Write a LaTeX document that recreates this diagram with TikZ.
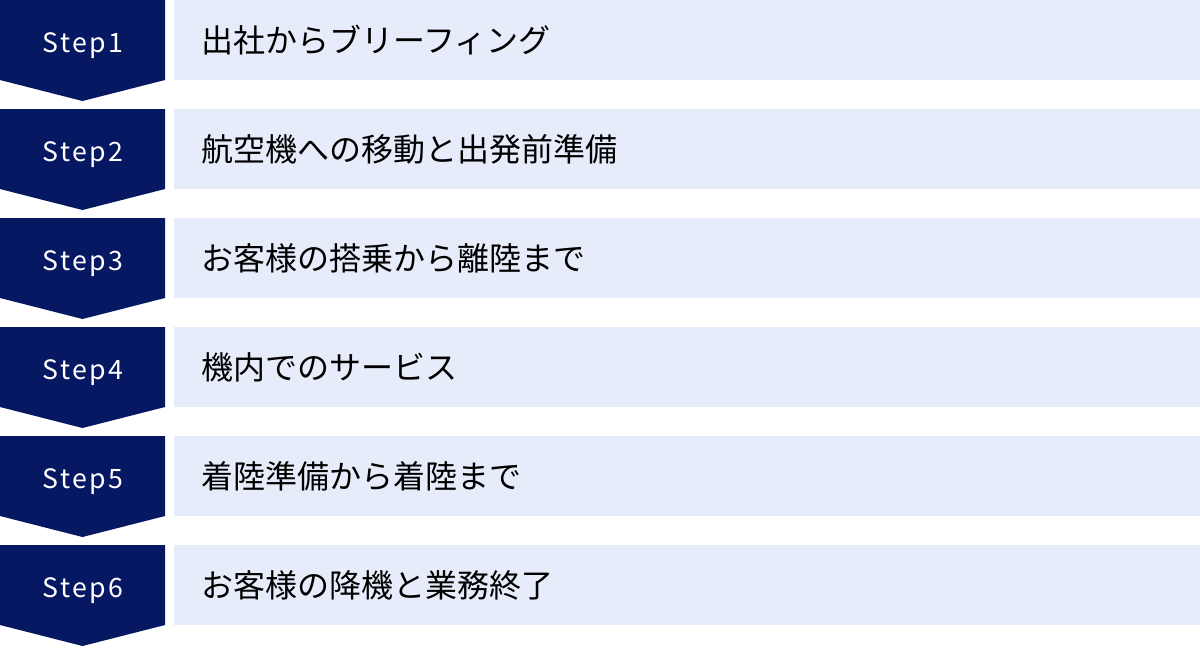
\documentclass[tikz,border=0pt]{standalone}
\usepackage{fontspec}
\setmainfont{Noto Sans CJK JP}
\newfontfamily\stepfont[LetterSpace=9]{Noto Sans CJK JP}
\usepackage{tikz}
\usetikzlibrary{positioning}
\definecolor{navy}{HTML}{061862}
\definecolor{paleblue}{HTML}{E6ECF9}

\begin{document}
\begin{tikzpicture}[x=0.75pt,y=-0.75pt,
  steptag/.style={fill=navy},
  steplabel/.style={text=white,font=\stepfont\fontsize{20}{24}\selectfont,anchor=base,inner sep=0pt},
  taskbox/.style={fill=paleblue,draw=none,minimum width=769.5pt,minimum height=60pt,
    inner sep=0pt,anchor=north west},
  tasktext/.style={text=black,font=\fontsize{24}{28}\selectfont,anchor=west,inner sep=0pt}]

  \useasboundingbox (0,0) rectangle (1200,647);

  % Steps
  \foreach \n/\task in {1/出社からブリーフィング,
                        2/航空機への移動と出発前準備,
                        3/お客様の搭乗から離陸まで,
                        4/機内でのサービス,
                        5/着陸準備から着陸まで,
                        6/お客様の降機と業務終了}{
    \pgfmathsetmacro{\top}{(\n-1)*109}
    \fill[steptag] (0,\top) -- (165,\top) -- (165,\top+80) -- (82.5,\top+101)
      -- (0,\top+80) -- cycle;
    \node[steplabel] (s\n) at (83,\top+52) {Step\n};
    \node[taskbox] (b\n) at (174,\top) {};
    \node[tasktext] (t\n) at (201,\top+40) {\task};
  }
\end{tikzpicture}
\end{document}
